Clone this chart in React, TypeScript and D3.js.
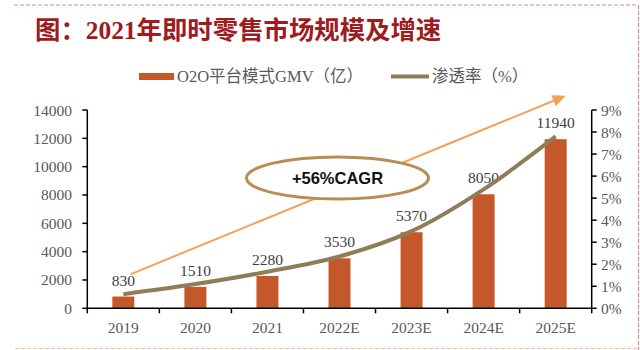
import React from "react";
import * as d3 from "d3";

const categories = ["2019", "2020", "2021", "2022E", "2023E", "2024E", "2025E"];
const gmv = [830, 1510, 2280, 3530, 5370, 8050, 11940];
const penetration = [0.64, 1.1, 1.66, 2.35, 3.5, 5.4, 7.8];
const leftTicks = [0, 2000, 4000, 6000, 8000, 10000, 12000, 14000];
const rightTicks = [0, 1, 2, 3, 4, 5, 6, 7, 8, 9];
const title = "图：2021年即时零售市场规模及增速";
const legendBar = "O2O平台模式GMV（亿）";
const legendLine = "渗透率（%）";
const cagrLabel = "+56%CAGR";
// annotation anchors in data terms
const arrowStart = { cat: "2019", dx: 7, value: 2400 };
const arrowEnd = { cat: "2025E", dx: 10, value: 15000 };
const ellipseAnchor = { cat: "2022E", dx: -2, value: 9200 };

const W = 640;
const H = 350;
const BAR = "#C4582A";
const LINE = "#8E7D57";
const GRAY = "#595959";
const SERIF = "'Liberation Serif', 'Times New Roman', 'Noto Sans CJK SC', serif";

export default function App() {
  const x = d3
    .scaleBand<string>()
    .domain(categories)
    .range([87.3, 591.7])
    .paddingInner(0.695)
    .paddingOuter(0.3475);
  const step = x.step();
  const bw = x.bandwidth();
  const cx = (c: string) => (x(c) as number) + bw / 2;
  const edge = (c: string) => (x(c) as number) - (step - bw) / 2;

  const yL = d3.scaleLinear().domain([0, 14000]).range([308.3, 110]);
  const yR = d3.scaleLinear().domain([0, 9]).range([308.3, 110]);

  const line = d3
    .line<number>()
    .x((_, i) => cx(categories[i]))
    .y((d) => yR(d))
    .curve(d3.curveCatmullRom.alpha(0.5));

  const x0 = x.range()[0];
  const x1 = x.range()[1];
  const y0 = yL(0);

  const ax1 = cx(arrowStart.cat) + arrowStart.dx;
  const ay1 = yL(arrowStart.value);
  const ax2 = cx(arrowEnd.cat) + arrowEnd.dx;
  const ay2 = yL(arrowEnd.value);
  const ang = Math.atan2(ay2 - ay1, ax2 - ax1);
  const ah = 13;
  const aw = 6;
  const hx = ax2 - ah * Math.cos(ang);
  const hy = ay2 - ah * Math.sin(ang);
  const px = -Math.sin(ang) * aw;
  const py = Math.cos(ang) * aw;

  const ex = cx(ellipseAnchor.cat) + ellipseAnchor.dx;
  const ey = yL(ellipseAnchor.value);

  return (
    <svg
      width={W}
      height={H}
      style={{ position: "absolute", left: 0, top: 0, background: "#fff" }}
    >
      <rect x={0} y={0} width={W} height={H} fill="#fff" />
      {/* frame */}
      <line x1={14} y1={5} x2={638} y2={5} stroke="#D98E7E" strokeWidth={1.2} strokeDasharray="4 2" />
      <line x1={638.5} y1={5} x2={638.5} y2={350} stroke="#D98E7E" strokeWidth={1.2} strokeDasharray="4 2" />
      <line x1={15} y1={348.5} x2={638} y2={348.5} stroke="#E8BFA6" strokeWidth={1} strokeDasharray="4 2" />

      {/* title */}
      <text
        x={35}
        y={39}
        fontFamily={SERIF}
        fontWeight={700}
        fontSize={25.4}
        fill="#9E1B1E"
      >
        {title}
      </text>

      {/* legend */}
      <rect x={139} y={73} width={35} height={7} fill={BAR} />
      <text x={177} y={82} fontFamily={SERIF} fontSize={16.5} fill={GRAY}>
        {legendBar}
      </text>
      <line x1={391} y1={76.5} x2={429} y2={76.5} stroke={LINE} strokeWidth={4} />
      <text x={432} y={82} fontFamily={SERIF} fontSize={16.5} fill={GRAY}>
        {legendLine}
      </text>

      {/* arrow */}
      <line x1={ax1} y1={ay1} x2={hx} y2={hy} stroke="#F2A257" strokeWidth={2} />
      <path
        d={`M${ax2},${ay2}L${hx + px},${hy + py}L${hx - px},${hy - py}Z`}
        fill="#F2A257"
      />

      {/* ellipse annotation */}
      <ellipse cx={ex} cy={ey} rx={91} ry={21} fill="#fff" stroke="#B88C55" strokeWidth={3} />
      <text
        x={ex}
        y={ey + 6}
        textAnchor="middle"
        fontFamily="'Liberation Sans', Arial, sans-serif"
        fontWeight={700}
        fontSize={16.5}
        fill="#111"
      >
        {cagrLabel}
      </text>

      {/* bars */}
      {gmv.map((v, i) => (
        <rect
          key={categories[i]}
          x={x(categories[i])}
          y={yL(v)}
          width={bw}
          height={y0 - yL(v)}
          fill={BAR}
        />
      ))}

      {/* value labels */}
      {gmv.map((v, i) => (
        <text
          key={"l" + i}
          x={cx(categories[i])}
          y={yL(v) - 11}
          textAnchor="middle"
          fontFamily={SERIF}
          fontSize={15.5}
          fill="#404040"
        >
          {v}
        </text>
      ))}

      {/* penetration line */}
      <path d={line(penetration) || ""} fill="none" stroke={LINE} strokeWidth={4} strokeLinecap="butt" />

      {/* left axis */}
      <line x1={x0} y1={yL(14000)} x2={x0} y2={y0} stroke="#000" strokeWidth={1.5} />
      {leftTicks.map((t) => (
        <g key={"yl" + t}>
          <line x1={x0 - 5} y1={yL(t)} x2={x0} y2={yL(t)} stroke="#000" strokeWidth={1.5} />
          <text
            x={72}
            y={yL(t) + 5.5}
            textAnchor="end"
            fontFamily={SERIF}
            fontSize={15.5}
            fill={GRAY}
          >
            {t}
          </text>
        </g>
      ))}

      {/* right axis */}
      <line x1={x1} y1={yR(9)} x2={x1} y2={y0} stroke="#000" strokeWidth={1.5} />
      {rightTicks.map((t) => (
        <g key={"yr" + t}>
          <line x1={x1} y1={yR(t)} x2={x1 + 5} y2={yR(t)} stroke="#000" strokeWidth={1.5} />
          <text
            x={601}
            y={yR(t) + 5.5}
            fontFamily={SERIF}
            fontSize={15.5}
            fill={GRAY}
          >
            {t + "%"}
          </text>
        </g>
      ))}

      {/* x axis */}
      <line x1={x0} y1={y0} x2={x1} y2={y0} stroke="#000" strokeWidth={1.5} />
      {categories.map((c) => (
        <g key={"x" + c}>
          <line x1={edge(c)} y1={y0} x2={edge(c)} y2={y0 + 5} stroke="#000" strokeWidth={1.5} />
          <text
            x={cx(c)}
            y={332.5}
            textAnchor="middle"
            fontFamily={SERIF}
            fontSize={15.5}
            fill={GRAY}
          >
            {c}
          </text>
        </g>
      ))}
      <line x1={x1} y1={y0} x2={x1} y2={y0 + 5} stroke="#000" strokeWidth={1.5} />
    </svg>
  );
}
